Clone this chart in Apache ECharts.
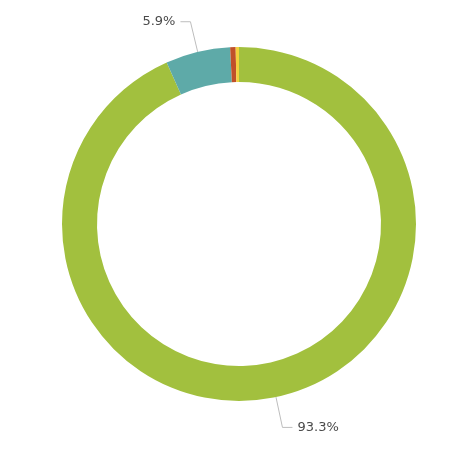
<!DOCTYPE html>
<html><head><meta charset="utf-8">
<script src="https://cdn.jsdelivr.net/npm/echarts@6/dist/echarts.min.js"></script>
<style>html,body{margin:0;padding:0;background:#fff}#c{width:474px;height:461px}</style>
</head><body><div id="c"></div>
<script>
const categories = ['A', 'B', 'C', 'D'];
const values = [93.3, 5.9, 0.5, 0.3];
const showLabel = [true, true, false, false];
const colors = ['#a2c03e', '#5eaaa8', '#c0502a', '#f3d03e'];
const chart = echarts.init(document.getElementById('c'));
chart.setOption({
  animation: false,
  series: [{
    type: 'pie',
    center: [239, 224],
    radius: [142, 177],
    startAngle: 90,
    clockwise: true,
    avoidLabelOverlap: false,
    itemStyle: {borderWidth: 0},
    label: {
      formatter: p => p.value.toFixed(1) + '%',
      color: '#4a4a4a', fontSize: 13, fontFamily: 'DejaVu Sans'
    },
    labelLine: {length: 31, length2: 10, lineStyle: {color: '#bdbdbd', width: 1}},
    data: categories.map((c, i) => ({
      name: c, value: values[i],
      itemStyle: {color: colors[i]},
      label: {show: showLabel[i]},
      labelLine: {show: showLabel[i]}
    }))
  }]
});
</script></body></html>
